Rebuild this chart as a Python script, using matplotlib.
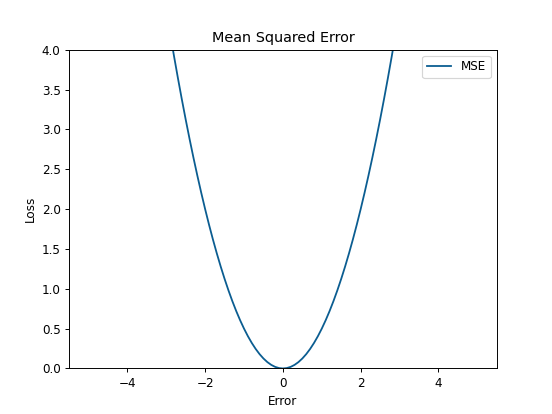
import matplotlib
matplotlib.use('Agg')
import matplotlib.pyplot as plt

# Points (loss reaches 4.0 near error = +/-2.83)
error = [-3.0, -2.9, -2.8, -2.7, -2.6, -2.5, -2.4, -2.3, -2.2, -2.1,
         -2.0, -1.9, -1.8, -1.7, -1.6, -1.5, -1.4, -1.3, -1.2, -1.1,
         -1.0, -0.9, -0.8, -0.7, -0.6, -0.5, -0.4, -0.3, -0.2, -0.1,
         0.0,
         0.1, 0.2, 0.3, 0.4, 0.5, 0.6, 0.7, 0.8, 0.9, 1.0,
         1.1, 1.2, 1.3, 1.4, 1.5, 1.6, 1.7, 1.8, 1.9, 2.0,
         2.1, 2.2, 2.3, 2.4, 2.5, 2.6, 2.7, 2.8, 2.9, 3.0]
loss = [4.5, 4.205, 3.92, 3.645, 3.38, 3.125, 2.88, 2.645, 2.42, 2.205,
        2.0, 1.805, 1.62, 1.445, 1.28, 1.125, 0.98, 0.845, 0.72, 0.605,
        0.5, 0.405, 0.32, 0.245, 0.18, 0.125, 0.08, 0.045, 0.02, 0.005,
        0.0,
        0.005, 0.02, 0.045, 0.08, 0.125, 0.18, 0.245, 0.32, 0.405, 0.5,
        0.605, 0.72, 0.845, 0.98, 1.125, 1.28, 1.445, 1.62, 1.805, 2.0,
        2.205, 2.42, 2.645, 2.88, 3.125, 3.38, 3.645, 3.92, 4.205, 4.5]

fig = plt.figure(figsize=(6.4, 4.8), dpi=86.25)
plt.plot(error, loss, color='#0b5d91', label='MSE')

plt.xlim(-5.5, 5.5)
plt.ylim(0, 4)
plt.xlabel('Error')
plt.ylabel('Loss')
plt.title('Mean Squared Error')
plt.legend(loc='upper right')

plt.savefig('out.png', dpi=86.25)
